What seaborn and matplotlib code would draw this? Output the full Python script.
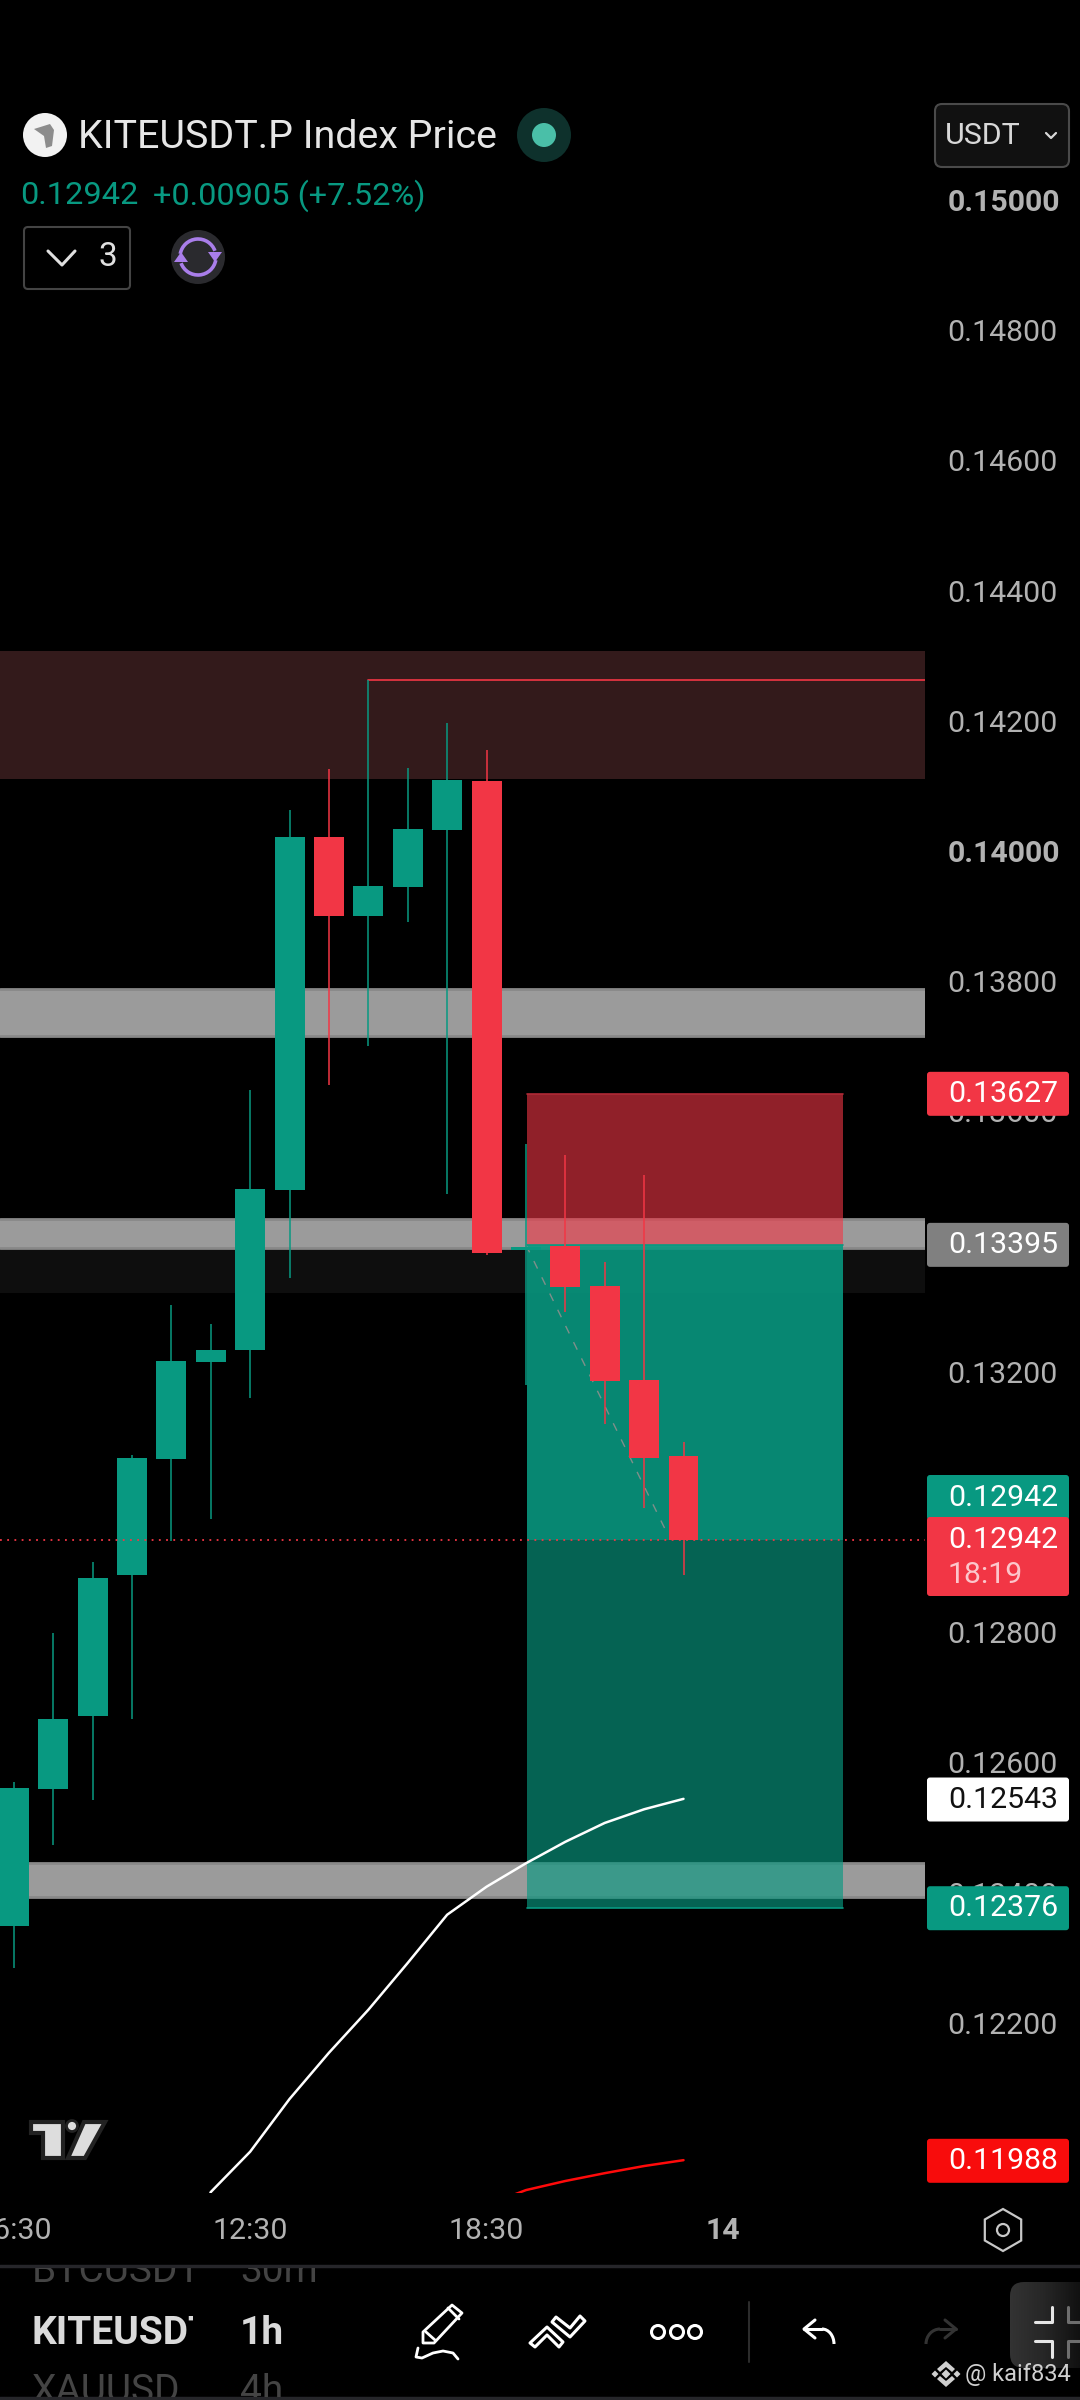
import matplotlib
matplotlib.use("Agg")
import numpy as np
import pandas as pd
import seaborn as sns
import matplotlib.pyplot as plt
from matplotlib.patches import Rectangle, FancyBboxPatch, Circle, Polygon, Arc, RegularPolygon

# ---------- data ----------
OPEN  = [0.12349,0.12559,0.12671,0.12888,0.13066,0.13215,0.13233,0.13479,0.14022,0.13900,0.13945,0.14032,0.14108,0.13387,0.13393,0.13332,0.13187,0.13070]
CLOSE = [0.12561,0.12667,0.12883,0.13068,0.13217,0.13233,0.13481,0.14022,0.13900,0.13946,0.14034,0.14109,0.13382,0.13392,0.13330,0.13186,0.13068,0.12942]
HIGH  = [0.12570,0.12799,0.12908,0.13072,0.13303,0.13273,0.13633,0.14063,0.14126,0.14263,0.14128,0.14197,0.14155,0.13550,0.13533,0.13369,0.13502,0.13092]
LOW   = [0.12284,0.12473,0.12542,0.12667,0.12940,0.12974,0.13160,0.13344,0.13641,0.13700,0.13891,0.13473,0.13379,0.13180,0.13292,0.13120,0.12991,0.12888]

MA_WHITE_X = [17,16,15,14,13,12,11,10,9,8,7,6,5,4]
MA_WHITE_Y = [0.12544,0.12528,0.12507,0.12478,0.12445,0.12409,0.12366,0.12292,0.12220,0.12154,0.12083,0.12002,0.11940,0.11759]
MA_RED_X = [17,16,15,14,13,12,11]
MA_RED_Y = [0.11989,0.11980,0.11969,0.11957,0.11943,0.11920,0.11897]

TREND_X = [13,16.6]
TREND_Y = [0.13395,0.12950]
SWEEP_X = [9,23.2]
SWEEP_Y = [0.14263,0.14263]

ZONE_RED = (0.14111,0.14307)
ZONES_GREY = [(0.13716,0.13788),(0.13390,0.13435),(0.12393,0.12445)]
ZONE_DARK = (0.13321,0.13390)

POS_X = (13.02,21.05)
POS_STOP, POS_ENTRY, POS_LAST, POS_TARGET = 0.13627,0.13395,0.12942,0.12376

Y_TICKS = [0.150,0.148,0.146,0.144,0.142,0.140,0.138,0.136,0.134,0.132,0.130,0.128,0.126,0.124,0.122]
BOLD_TICKS = [0.150,0.140]
X_TICKS = [0,6,12,18]
X_LABELS = ["06:30","12:30","18:30","14"]

GREEN, RED = "#089981", "#F23645"

# ---------- setup ----------
sns.set_theme(style="dark", rc={"axes.facecolor":"black","figure.facecolor":"black","axes.grid":False})
plt.rcParams["font.family"] = ["Roboto","DejaVu Sans"]

W, H = 1080, 2400
XLIM = (-0.35,23.13)
YLIM = (0.15-1993/65100, 0.15+200/65100)
fig = plt.figure(figsize=(10.8,24), dpi=100, facecolor="black")
ax = fig.add_axes([0, (H-2193)/H, 925/W, 2193/H])
for s in ax.spines.values():
    s.set_visible(False)

# zones
ax.axhspan(*ZONE_RED, color="#331A1B", lw=0, zorder=1)
ax.axhspan(*ZONE_DARK, color="#0E0E0E", lw=0, zorder=1)
for lo_z,hi_z in ZONES_GREY:
    ax.axhspan(lo_z,hi_z,facecolor="#9B9B9B",lw=0,zorder=1.1)
    ax.axhline(lo_z,color="#888888",lw=2,zorder=1.15)
    ax.axhline(hi_z,color="#888888",lw=2,zorder=1.15)

# position box
ax.fill_between(POS_X,POS_ENTRY,POS_STOP,color=RED,alpha=0.6,lw=0,zorder=1.5)
ax.fill_between(POS_X,POS_TARGET,POS_ENTRY,color=GREEN,alpha=0.65,lw=0,zorder=1.5)
ax.fill_between(POS_X,POS_LAST,POS_ENTRY,color=GREEN,alpha=0.68,lw=0,zorder=1.6)
ax.plot(POS_X,[POS_STOP]*2,color="#B02A36",lw=1.2,zorder=1.7)
ax.plot(POS_X,[POS_ENTRY]*2,color=GREEN,lw=1.2,zorder=1.7)
ax.plot(POS_X,[POS_TARGET]*2,color=GREEN,lw=1.2,zorder=1.7)

# trend + sweep lines
ax.plot(TREND_X,TREND_Y,color="#7F8F8A",lw=1.0,ls=(0,(6,7)),zorder=1.8)
ax.plot(SWEEP_X,SWEEP_Y,color=RED,lw=1.2,zorder=1.8)

# candles
x = np.arange(len(OPEN))
o,c,hi,lo = map(np.array,(OPEN,CLOSE,HIGH,LOW))
col = [GREEN if b>=a else RED for a,b in zip(o,c)]
ax.vlines(x,lo,hi,colors=col,lw=1.1,zorder=2)
ax.bar(x,np.abs(c-o),bottom=np.minimum(o,c),width=0.76,color=col,lw=0,zorder=3)

# MAs
sns.lineplot(data=pd.DataFrame({"x":MA_WHITE_X,"y":MA_WHITE_Y}),x="x",y="y",sort=False,estimator=None,
             color="white",lw=1.8,ax=ax,zorder=4)
sns.lineplot(data=pd.DataFrame({"x":MA_RED_X,"y":MA_RED_Y}),x="x",y="y",sort=False,estimator=None,
             color="#FF0A0A",lw=1.8,ax=ax,zorder=4)

# last price line
ax.axhline(POS_LAST,color=RED,lw=1.3,ls=(0,(1,3)),zorder=5)

# axes
ax.set_xlabel(""); ax.set_ylabel("")
ax.yaxis.tick_right()
ax.set_yticks(Y_TICKS)
ax.set_yticklabels([f"{t:.5f}" for t in Y_TICKS])
ax.set_xticks(X_TICKS)
ax.set_xticklabels(X_LABELS)
ax.tick_params(axis="y",length=0,pad=16,labelsize=21.8,labelcolor="#B2B2B2")
ax.tick_params(axis="x",length=0,pad=17,labelsize=21.8,labelcolor="#B2B2B2")
for t,lab in zip(Y_TICKS,ax.get_yticklabels()):
    lab.set_ha("left")
    if t in BOLD_TICKS:
        lab.set_fontweight("bold")
ax.get_xticklabels()[-1].set_fontweight("bold")
ax.set_xlim(*XLIM)
ax.set_ylim(*YLIM)

# ---------- overlay in pixel coordinates for the app chrome ----------
ov = fig.add_axes([0,0,1,1],facecolor="none",zorder=10)
ov.axis("off")

# gradient tool button (drawn first, limits set after)
grad = np.linspace(0,1,64).reshape(1,-1)
btn = FancyBboxPatch((1010,2282),100,86,boxstyle="round,pad=0,rounding_size=14",fc="none",ec="none")
ov.add_patch(btn)
im = ov.imshow(grad,extent=(1010,1080,2368,2282),aspect="auto",cmap=matplotlib.colors.LinearSegmentedColormap.from_list("b",["#333333","#262626","#111111"]))
im.set_clip_path(btn)
ov.set_xlim(0,W); ov.set_ylim(H,0)

def tag(price,color,txt,txtcolor="white",y0=None,y1=None,tx=None):
    yc = 200+(0.15-price)*65100
    y0 = yc-22 if y0 is None else y0
    y1 = yc+22 if y1 is None else y1
    ov.add_patch(FancyBboxPatch((927,y0),142,y1-y0,boxstyle="round,pad=0,rounding_size=3",fc=color,ec="none",zorder=2))
    ov.text(948,(y0+y1)/2 if tx is None else tx,txt,color=txtcolor,fontsize=21.8,va="center",ha="left",zorder=3)

tag(0.13627,RED,"0.13627")
tag(0.13395,"#808080","0.13395")
tag(0.12543,"white","0.12543",txtcolor="#111111")
tag(0.12376,GREEN,"0.12376")
tag(0.11988,"#F80C0C","0.11988")
tag(0.12942,GREEN,"0.12942",y0=1475,y1=1520,tx=1498)
tag(0.12942,RED,"0.12942",y0=1517,y1=1596,tx=1540)
ov.text(948,1575,"18:19",color="#FCC6CB",fontsize=21.8,va="center",ha="left",zorder=3)

# header
ov.add_patch(Circle((45,135),22,fc="#F2F2F2",ec="none"))
ov.add_patch(Polygon([[34,129],[50,124],[54,130],[52,146],[46,148],[44,136]],fc="#8C8C8C",ec="none"))
ov.text(78,137,"KITEUSDT.P Index Price",color="#E6E6E6",fontsize=28.4,va="center",ha="left")
ov.add_patch(Circle((544,135),27,fc="#0E312C",ec="none"))
ov.add_patch(Circle((544,135),12,fc="#4ABFA8",ec="none"))
ov.text(20,196,"0.12942",color=GREEN,fontsize=23.4,va="center",ha="left")
ov.text(153,196,"+0.00905 (+7.52%)",color=GREEN,fontsize=23.4,va="center",ha="left")
ov.add_patch(FancyBboxPatch((24,227),106,62,boxstyle="round,pad=0,rounding_size=4",fc="black",ec="#444444",lw=1.5))
ov.plot([48,62,75],[251,265,251],color="#E0E0E0",lw=2.2)
ov.text(108,257,"3",color="#E0E0E0",fontsize=24,va="center",ha="center")
ov.add_patch(Circle((198,257),27,fc="#2A2A2E",ec="none"))
ov.add_patch(Arc((198,257),36,36,theta1=190,theta2=340,ec="#A97EEA",lw=2.6))
ov.add_patch(Arc((198,257),36,36,theta1=10,theta2=160,ec="#A97EEA",lw=2.6))
ov.add_patch(Polygon([[208,252],[222,252],[215,262]],fc="#A97EEA",ec="none"))
ov.add_patch(Polygon([[174,262],[188,262],[181,252]],fc="#A97EEA",ec="none"))
ov.add_patch(FancyBboxPatch((935,104),134,63,boxstyle="round,pad=0,rounding_size=7",fc="#111111",ec="#4A4A4A",lw=1.5))
ov.text(945,136,"USDT",color="#D8D8D8",fontsize=21.8,va="center",ha="left")
ov.plot([1046,1051,1056],[133,138,133],color="#D8D8D8",lw=1.6)

# TradingView logo
ov.add_patch(Polygon([[31,2122],[63,2122],[63,2158],[43,2158],[43,2133],[31,2133]],fc="#DDDDDD",ec="#222222",lw=3))
ov.add_patch(Circle((72,2126),5.5,fc="#DDDDDD",ec="#222222",lw=2))
ov.add_patch(Polygon([[105,2122],[85,2158],[68,2158],[84,2122]],fc="#DDDDDD",ec="#222222",lw=3))

# settings hexagon
ov.add_patch(RegularPolygon((1003,2230),6,radius=21,fc="none",ec="#C8C8C8",lw=1.6))
ov.add_patch(Circle((1003,2230),6,fc="none",ec="#C8C8C8",lw=1.6))

# bottom bar
ov.plot([0,W],[2266,2266],color="#26262A",lw=2.5)
ov.plot([0,W],[2398,2398],color="#26262A",lw=2.5)
for ty,s,colr,fw in [(2271,"BTCUSDT","#444444","normal"),(2334,"KITEUSDT","#DADADA","bold"),(2392,"XAUUSD","#444444","normal")]:
    t = ov.text(32,ty,s,color=colr,fontweight=fw,fontsize=28,va="center",ha="left")
    t.set_clip_path(Rectangle((0,2268),193,129,transform=ov.transData))
    t.set_clip_on(True)
for ty,s,colr,fw in [(2271,"30m","#444444","normal"),(2334,"1h","#DADADA","bold"),(2392,"4h","#444444","normal")]:
    t = ov.text(240,ty,s,color=colr,fontweight=fw,fontsize=28,va="center",ha="left")
    t.set_clip_path(Rectangle((200,2268),200,129,transform=ov.transData))
    t.set_clip_on(True)

# pencil
ov.add_patch(Polygon([[423,2332],[452,2305],[462,2313],[434,2343],[423,2343]],fc="none",ec="white",lw=2,joinstyle="round"))
ov.plot([448,459],[2308,2319],color="white",lw=2)
ov.plot([426,435],[2332,2340],color="white",lw=2)
ov.plot([418,416,422,433,443,453,458],[2348,2357,2358,2353,2351,2353,2359],color="white",lw=2)
# double chevron icon
ov.add_patch(Polygon([[530,2343],[547,2327],[563,2342],[559,2347],[547,2335],[535,2347]],fc="none",ec="white",lw=2.2,joinstyle="round"))
ov.add_patch(Polygon([[552,2322],[556,2317],[570,2328],[580,2316],[585,2321],[570,2337]],fc="none",ec="white",lw=2.2,joinstyle="round"))
# dots
for cx in (658,677,695):
    ov.add_patch(Circle((cx,2332),6.5,fc="none",ec="white",lw=2.2))
ov.plot([749,749],[2302,2362],color="#2C2C2C",lw=1.5)
# undo / redo
ov.add_patch(Arc((822,2344),24,30,theta1=270,theta2=360,ec="white",lw=2.2))
ov.plot([804,822],[2329,2329],color="white",lw=2.2)
ov.plot([815,804,815],[2320,2329,2338],color="white",lw=2.2)
ov.add_patch(Arc((940,2344),28,30,theta1=180,theta2=270,ec="#333333",lw=2.2))
ov.plot([940,956],[2329,2329],color="#333333",lw=2.2)
ov.plot([945,956,945],[2320,2329,2338],color="#333333",lw=2.2)
# tool button corner marks
ov.plot([1035,1052,1052],[2322,2322,2307],color="#E6E6E6",lw=2.2)
ov.plot([1035,1052,1052],[2341,2341,2357],color="#E6E6E6",lw=2.2)
ov.plot([1080,1068,1068],[2322,2322,2307],color="#6E6E6E",lw=2.2)
ov.plot([1080,1068,1068],[2341,2341,2357],color="#6E6E6E",lw=2.2)
# watermark
for cx,cy,r in [(946,2374,4.5),(935,2374,3.5),(957,2374,3.5)]:
    ov.add_patch(RegularPolygon((cx,cy),4,radius=r,fc="#CFCFCF",ec="none"))
ov.add_patch(Polygon([[946,2361],[955,2369],[952,2372],[946,2367],[940,2372],[937,2369]],fc="#CFCFCF",ec="none"))
ov.add_patch(Polygon([[946,2387],[955,2379],[952,2376],[946,2381],[940,2376],[937,2379]],fc="#CFCFCF",ec="none"))
ov.text(965,2374,"@ kaif834",color="#CFCFCF",fontsize=17,va="center",ha="left")

fig.savefig("out.png",dpi=100,facecolor="black")
